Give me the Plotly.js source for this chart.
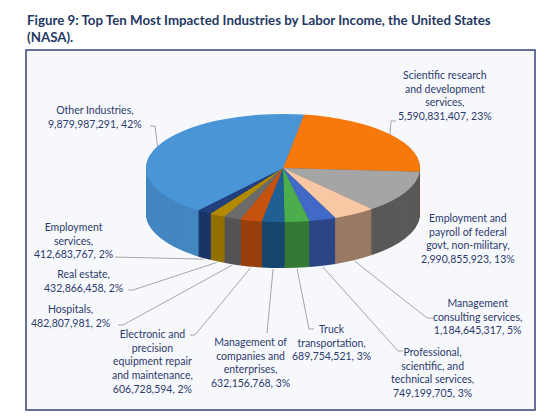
<!DOCTYPE html>
<html>
<head>
<meta charset="utf-8">
<script src="https://cdn.plot.ly/plotly-3.0.1.min.js"></script>
<style>
  html, body { margin: 0; padding: 0; background: #fff; }
  #chart { width: 553px; height: 420px; }
</style>
</head>
<body>
<div id="chart"></div>
<script>
// slices in clockwise order, starting near 12 o'clock
const industries = [
  "Scientific research\nand development\nservices",
  "Employment and\npayroll of federal\ngovt, non-military",
  "Management\nconsulting services",
  "Professional,\nscientific, and\ntechnical services",
  "Truck\ntransportation",
  "Management of\ncompanies and\nenterprises",
  "Electronic and\nprecision\nequipment repair\nand maintenance",
  "Hospitals",
  "Real estate",
  "Employment\nservices",
  "Other Industries"
];
const laborIncome = [5590831407, 2990855923, 1184645317, 749199705, 689754521,
                     632156768, 606728594, 482807981, 432866458, 412683767, 9879987291];
// percentages as printed on the figure
const shownPercent = [23, 13, 5, 3, 3, 3, 2, 2, 2, 2, 42];

const sliceColors = ["#F7780B", "#A5A5A5", "#F8C7A4", "#4169C8", "#4CAD4C", "#1E5F94",
                     "#C6520F", "#6B6B6B", "#B38900", "#213F7B", "#4A95D6"];

// label text centres and leader line starts, in page pixels
const labelPos = [[445, 96], [468, 238], [477, 316], [432, 372], [331, 342], [250, 362],
                  [152, 361], [70, 316], [83, 281], [73, 240], [95, 117]];
const leaderFrom = [[[396, 121], [391, 121]], null, [[433, 318], [427, 318]], [[403, 351], [398, 351]],
                    [[314, 329], [309, 329]], [[267, 333]], [[190, 335], [195, 335]],
                    [[118, 325], [123, 325]], [[128, 290], [133, 290]], [[115, 257]], [[150, 126], [155, 126]]];

const W = 553, H = 420;
const px = x => x / W;
const py = y => 1 - y / H;

const center = {x: 283, y: 168};
const radius = 137, tilt = 0.395, depth = 46, startAngle = 8.8;

const total = laborIncome.reduce((a, b) => a + b, 0);
let acc = 0;
const midAngles = laborIncome.map(v => {
  const m = startAngle + (acc + v / 2) / total * 360;
  acc += v;
  return m;
});

const shade = (hex, f) => {
  const n = parseInt(hex.slice(1), 16);
  const c = [n >> 16, (n >> 8) & 255, n & 255].map(v => Math.round(v * f));
  return `rgb(${c.join(",")})`;
};
const sideColors = sliceColors.map((c, i) => shade(c, 0.72 - 0.2 * Math.sin(midAngles[i] * Math.PI / 180)));

const rimPoint = deg => {
  const r = deg * Math.PI / 180, s = Math.sin(r), c = Math.cos(r);
  return [center.x + radius * s, center.y - radius * tilt * c + (c < 0 ? depth + 1 : 0)];
};

const pieBase = {
  type: "pie",
  values: laborIncome,
  labels: industries,
  sort: false,
  direction: "clockwise",
  rotation: startAngle,
  textinfo: "none",
  hoverinfo: "none",
  showlegend: false,
  domain: {x: [px(center.x - radius), px(center.x + radius)],
           y: [py(center.y + radius), py(center.y - radius)]}
};

// stacked copies make the side of the disc, the last one is the top face
const shifts = [];
for (let t = depth; t >= 1; t--) shifts.push(t);
shifts.push(0);

const data = shifts.map(t => Object.assign({}, pieBase, {
  marker: {colors: t ? sideColors : sliceColors, line: {width: 0}}
}));

const shapes = [{
  type: "rect", xref: "paper", yref: "paper", layer: "below",
  x0: px(26), x1: px(535), y0: py(410), y1: py(50),
  fillcolor: "#F6F8FC", line: {color: "#34437A", width: 1.5}
}];
leaderFrom.forEach((pts, i) => {
  if (!pts) return;
  const all = pts.concat([rimPoint(midAngles[i])]);
  shapes.push({
    type: "path", xref: "paper", yref: "paper",
    path: all.map((p, k) => (k ? "L" : "M") + px(p[0]) + "," + py(p[1])).join(" "),
    line: {color: "#A6A6A6", width: 1}
  });
});

const annotations = industries.map((name, i) => ({
  xref: "paper", yref: "paper", x: px(labelPos[i][0]), y: py(labelPos[i][1]),
  xanchor: "center", yanchor: "middle", align: "center", showarrow: false,
  text: name.replace(/\n/g, "<br>") + ",<br>" + laborIncome[i].toLocaleString("en-US") + ", " + shownPercent[i] + "%",
  font: {family: "Lato", size: 10.5, color: "#2D3A6B"}
}));
annotations.push({
  xref: "paper", yref: "paper", x: px(26), y: py(11), xanchor: "left", yanchor: "top",
  align: "left", showarrow: false, borderpad: 0,
  text: "<b>Figure 9: Top Ten Most Impacted Industries by Labor Income, the United States<br>(NASA).</b>",
  font: {family: "Lato", size: 13.3, color: "#1F3864"}
});

const layout = {
  width: W,
  height: H,
  margin: {l: 0, r: 0, t: 0, b: 0},
  paper_bgcolor: "#FFFFFF",
  showlegend: false,
  shapes: shapes,
  annotations: annotations
};

const gd = document.getElementById("chart");
Plotly.newPlot(gd, data, layout, {displayModeBar: false, staticPlot: true}).then(() => {
  const cy = gd.calcdata[0][0].cy;
  gd.querySelectorAll(".pielayer .trace").forEach((g, i) => {
    g.setAttribute("transform", `translate(0,${cy * (1 - tilt) + shifts[i]}) scale(1,${tilt})`);
  });
});
</script>
</body>
</html>
